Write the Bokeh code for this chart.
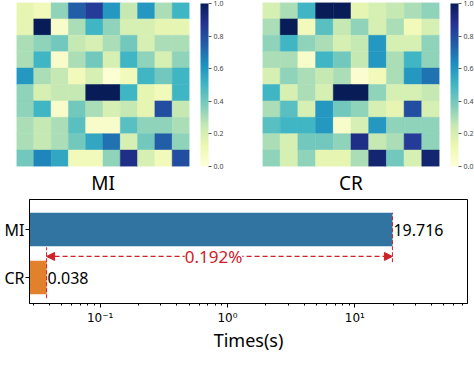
import numpy as np
from bokeh.plotting import figure
from bokeh.models import (ColumnDataSource, LinearColorMapper, ColorBar, FixedTicker,
                          PrintfTickFormatter, Arrow, NormalHead, Label, Range1d)
from bokeh.layouts import column, row
from bokeh.palettes import YlGnBu9
from bokeh.embed import file_html
from bokeh.resources import INLINE
from bokeh.core.properties import value

# ---------------- data ----------------
mi_matrix = [
    [0.15, 0.10, 0.35, 0.75, 0.85, 0.60, 0.25, 0.60, 0.30, 0.50],
    [0.15, 1.00, 0.05, 0.30, 0.50, 0.35, 0.20, 0.20, 0.15, 0.15],
    [0.30, 0.35, 0.40, 0.25, 0.20, 0.30, 0.40, 0.20, 0.30, 0.30],
    [0.30, 0.50, 0.05, 0.30, 0.40, 0.20, 0.50, 0.35, 0.20, 0.35],
    [0.60, 0.30, 0.25, 0.10, 0.20, 0.02, 0.10, 0.50, 0.40, 0.50],
    [0.35, 0.20, 0.25, 0.25, 1.00, 1.00, 0.50, 0.15, 0.10, 0.50],
    [0.35, 0.50, 0.05, 0.40, 0.30, 0.20, 0.25, 0.15, 0.80, 0.25],
    [0.30, 0.25, 0.30, 0.45, 0.05, 0.05, 0.45, 0.35, 0.35, 0.30],
    [0.30, 0.25, 0.30, 0.40, 0.55, 0.70, 0.20, 0.40, 0.75, 0.35],
    [0.40, 0.65, 0.55, 0.10, 0.10, 0.35, 0.90, 0.20, 0.10, 0.80],
]
cr_matrix = [
    [0.20, 0.30, 0.50, 1.00, 1.00, 0.15, 0.20, 0.25, 0.30, 0.35],
    [0.30, 1.00, 0.10, 0.45, 0.25, 0.35, 0.20, 0.30, 0.10, 0.20],
    [0.35, 0.50, 0.35, 0.30, 0.20, 0.25, 0.60, 0.20, 0.20, 0.35],
    [0.30, 0.30, 0.05, 0.50, 0.40, 0.25, 0.60, 0.30, 0.50, 0.35],
    [0.20, 0.35, 0.30, 0.25, 0.30, 0.03, 0.10, 0.30, 0.60, 0.70],
    [0.50, 0.20, 0.30, 0.20, 1.00, 1.00, 0.35, 0.20, 0.20, 0.25],
    [0.30, 0.45, 0.20, 0.60, 0.40, 0.35, 0.20, 0.15, 0.80, 0.20],
    [0.45, 0.50, 0.50, 0.60, 0.05, 0.20, 0.60, 0.35, 0.35, 0.35],
    [0.30, 0.20, 0.40, 0.40, 0.35, 0.90, 0.25, 0.30, 0.85, 0.35],
    [0.35, 0.20, 0.35, 0.15, 0.15, 0.30, 0.95, 0.40, 0.20, 0.95],
]
heatmap_names = ["MI", "CR"]
cbar_ticks = [0.0, 0.2, 0.4, 0.6, 0.8, 1.0]

methods = ["MI", "CR"]
method_pos = [1, 0]
times = [19.716, 0.038]
time_labels = ["19.716", "0.038"]
bar_colors = ["#3274a1", "#e1812c"]
ratio_label = "0.192%"
x_ticks = [0.1, 1, 10]
x_tick_labels = ["10\u207b\u00b9", "10\u2070", "10\u00b9"]
minor_ticks = [0.03, 0.04, 0.05, 0.06, 0.07, 0.08, 0.09,
               0.2, 0.3, 0.4, 0.5, 0.6, 0.7, 0.8, 0.9,
               2, 3, 4, 5, 6, 7, 8, 9, 20, 30, 40, 50, 60, 70]

# ---------------- palette (YlGnBu, light -> dark) ----------------
base = list(reversed(YlGnBu9))
rgb = np.array([[int(c[i:i + 2], 16) for i in (1, 3, 5)] for c in base], dtype=float)
pos = np.linspace(0, 1, len(base))
t = np.linspace(0, 1, 256)
pal = []
for tt in t:
    r = np.interp(tt, pos, rgb[:, 0]); g = np.interp(tt, pos, rgb[:, 1]); b = np.interp(tt, pos, rgb[:, 2])
    pal.append("#%02x%02x%02x" % (int(round(r)), int(round(g)), int(round(b))))

FONT = "Noto Sans"


def heatmap(matrix, name, fw, left, right):
    mapper = LinearColorMapper(palette=pal, low=0.0, high=1.0)
    n = len(matrix)
    xs, ys, vs = [], [], []
    for r_i, row_vals in enumerate(matrix):
        for c_i, v in enumerate(row_vals):
            xs.append(c_i + 0.5)
            ys.append(n - r_i - 0.5)
            vs.append(v)
    src = ColumnDataSource(dict(x=xs, y=ys, v=vs))
    p = figure(frame_width=fw, frame_height=164, x_range=Range1d(0, n), y_range=Range1d(0, n),
               toolbar_location=None, output_backend="svg",
               min_border_left=left, min_border_right=right, min_border_top=2, min_border_bottom=32)
    p.rect(x="x", y="y", width=1, height=1, source=src,
           fill_color={"field": "v", "transform": mapper},
           line_color={"field": "v", "transform": mapper}, line_width=0.5)
    p.yaxis.visible = False
    p.xgrid.visible = False
    p.ygrid.visible = False
    p.outline_line_color = None
    p.xaxis.ticker = FixedTicker(ticks=[])
    p.xaxis.axis_line_color = None
    p.xaxis.major_tick_out = 0
    p.xaxis.major_label_standoff = 0
    p.xaxis.axis_label = name
    p.xaxis.axis_label_text_font = FONT
    p.xaxis.axis_label_text_font_style = "normal"
    p.xaxis.axis_label_text_font_size = "19px"
    p.xaxis.axis_label_text_color = "black"
    p.xaxis.axis_label_standoff = 3
    cb = ColorBar(color_mapper=mapper, width=8, height=163, padding=0, margin=0,
                  location=(11, 0),
                  ticker=FixedTicker(ticks=cbar_ticks),
                  formatter=PrintfTickFormatter(format="%.1f"),
                  major_label_text_font_size="7px", major_label_text_color="#444444",
                  major_label_text_font=FONT,
                  major_tick_out=3, major_tick_in=0, major_tick_line_color="#555555",
                  label_standoff=2, bar_line_color=None, background_fill_color=None,
                  border_line_color=None)
    p.add_layout(cb, "right")
    return p


h1 = heatmap(mi_matrix, heatmap_names[0], 173, 16, 61)
h2 = heatmap(cr_matrix, heatmap_names[1], 177, 12, 0)

# ---------------- bar chart ----------------
b = figure(frame_width=438, frame_height=104, x_axis_type="log", x_range=Range1d(0.0279, 76.6),
           y_range=Range1d(-0.54, 1.625), toolbar_location=None, output_backend="svg",
           min_border_left=29, min_border_right=1, min_border_top=1, min_border_bottom=0)
bsrc = ColumnDataSource(dict(y=method_pos, right=times, left=[1e-3, 1e-3], color=bar_colors,
                             lab=time_labels))

red = "#d0202a"
b.add_layout(Arrow(x_start=times[1], x_end=times[0], y_start=0.44, y_end=0.44,
                   line_color=red, line_dash="5 3", line_width=1.2, level="underlay",
                   start=NormalHead(size=8, fill_color=red, line_color=red),
                   end=NormalHead(size=8, fill_color=red, line_color=red)))
mid = 10 ** ((np.log10(times[0]) + np.log10(times[1])) / 2)
b.add_layout(Label(x=mid, y=0.44, text=ratio_label, text_align="center", text_baseline="middle",
                   text_color=red, text_font=FONT, text_font_size="17px", level="underlay",
                   background_fill_color="white", x_offset=-6))

b.hbar(y="y", left="left", right="right", height=0.7, fill_color="color", line_color=None, source=bsrc)
b.text(x="right", y="y", text="lab", source=bsrc, x_offset=1, text_align="left",
       text_baseline="middle", text_font=value(FONT), text_font_size="16px", text_color="black")
b.segment(x0=[times[0], times[1]], x1=[times[0], times[1]], y0=[0.32, -0.43], y1=[1.35, 0.63],
          line_color=red, line_dash="4 2", line_width=1)

b.xgrid.visible = False
b.ygrid.visible = False
b.outline_line_color = "black"
b.outline_line_width = 1
b.yaxis.ticker = FixedTicker(ticks=method_pos)
b.yaxis.major_label_overrides = {p_: m for p_, m in zip(method_pos, methods)}
b.yaxis.major_label_text_font = FONT
b.yaxis.major_label_text_font_size = "16px"
b.yaxis.major_label_text_color = "black"
b.yaxis.major_tick_out = 4
b.yaxis.major_tick_in = 0
b.yaxis.major_label_standoff = 1
b.yaxis.axis_line_color = "black"

b.xaxis.ticker = FixedTicker(ticks=x_ticks, minor_ticks=minor_ticks)
b.xaxis.major_label_overrides = {float(k): v for k, v in zip(x_ticks, x_tick_labels)}
b.xaxis.major_label_text_font = "DejaVu Sans"
b.xaxis.major_label_text_font_size = "12px"
b.xaxis.major_label_text_color = "black"
b.xaxis.major_tick_out = 4
b.xaxis.major_tick_in = 0
b.xaxis.minor_tick_out = 2
b.xaxis.minor_tick_in = 0
b.xaxis.major_label_standoff = 3
b.xaxis.axis_line_color = "black"
b.xaxis.axis_label = "Times(s)"
b.xaxis.axis_label_text_font = FONT
b.xaxis.axis_label_text_font_style = "normal"
b.xaxis.axis_label_text_font_size = "18px"
b.xaxis.axis_label_text_color = "black"
b.xaxis.axis_label_standoff = 0

layout = column(row(h1, h2), b)
open("out.html", "w").write(file_html(layout, INLINE))
